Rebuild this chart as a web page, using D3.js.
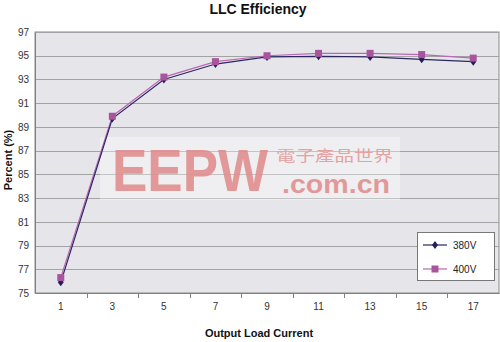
<!DOCTYPE html>
<html><head><meta charset="utf-8">
<script src="https://cdn.jsdelivr.net/npm/d3@7"></script>
<style>
html,body{margin:0;padding:0;background:#fff;}
svg{display:block;font-family:"Liberation Sans",Arial,sans-serif;}
</style></head>
<body>
<svg id="chart" width="500" height="342"></svg>
<script>
const categories = ["1","3","5","7","9","11","13","15","17"];
const series380 = [75.9, 89.7, 93.0, 94.3, 94.9, 94.95, 94.9, 94.7, 94.5];
const series400 = [76.3, 89.9, 93.2, 94.5, 95.0, 95.2, 95.2, 95.1, 94.8];
const yTicks = [75, 77, 79, 81, 83, 85, 87, 89, 91, 93, 95, 97];
const seriesNames = ["380V", "400V"];

const svg = d3.select("#chart");
const L = 35, R = 499, T = 32, B = 293;
const x = d3.scaleBand().domain(categories).range([L, R]);
const y = d3.scaleLinear().domain([75, 97]).range([B, T]);

// plot background
svg.append("rect").attr("x", L).attr("y", T).attr("width", R - L).attr("height", B - T)
  .attr("fill", "#e6e6ea").attr("stroke", "#8c8c8c").attr("stroke-width", 1);

// gridlines
svg.append("g").selectAll("line").data(yTicks.slice(1)).join("line")
  .attr("x1", L).attr("x2", R).attr("y1", d => Math.round(y(d)) + 0.5).attr("y2", d => Math.round(y(d)) + 0.5)
  .attr("stroke", "#a3a3a3").attr("stroke-width", 1);

// watermark
const wm = svg.append("g");
wm.append("rect").attr("x", 100).attr("y", 137).attr("width", 300).attr("height", 63)
  .attr("fill", "#ffffff").attr("opacity", 0.35);
wm.append("text").attr("transform", "translate(112,191) scale(1,1.13)").attr("font-size", 53).attr("font-weight", "bold")
  .attr("fill", "#e08a8a").attr("opacity", 0.85).text("EEPW");
wm.append("text").attr("x", 276).attr("y", 161).attr("font-size", 15)
  .attr("font-family", "Noto Sans CJK TC").attr("textLength", 117).attr("lengthAdjust", "spacingAndGlyphs")
  .attr("fill", "#e4a3a3").text("電子產品世界");
wm.append("text").attr("x", 282).attr("y", 193).attr("font-size", 26).attr("font-weight", "bold")
  .attr("textLength", 108).attr("lengthAdjust", "spacingAndGlyphs")
  .attr("fill", "#e08a8a").attr("opacity", 0.85).text(".com.cn");

// y axis
const yAxis = d3.axisLeft(y).tickValues(yTicks).tickSize(0).tickPadding(6);
const gy = svg.append("g").attr("transform", `translate(${L},0)`).call(yAxis);
gy.select(".domain").attr("stroke", "#808080");
gy.selectAll("text").attr("font-size", 10).attr("fill", "#333").attr("font-family", "Liberation Sans, Arial");

// x axis
const xAxis = d3.axisBottom(x).tickSize(0).tickPadding(10);
const gx = svg.append("g").attr("transform", `translate(0,${B})`).call(xAxis);
gx.select(".domain").attr("stroke", "#808080");
gx.selectAll("text").attr("font-size", 10).attr("fill", "#333").attr("font-family", "Liberation Sans, Arial");
// tick marks at band boundaries
svg.append("g").selectAll("line").data(categories.slice(1)).join("line")
  .attr("x1", d => Math.round(x(d)) + 0.5).attr("x2", d => Math.round(x(d)) + 0.5)
  .attr("y1", B).attr("y2", B + 5).attr("stroke", "#808080");

// lines
const colors = ["#2b2660", "#b868b4"];
const markerColors = ["#231f5a", "#a8559e"];
const line = d3.line().x((d, i) => x(categories[i]) + x.bandwidth() / 2).y(d => y(d));
[series400, series380].forEach((s, k) => {
  const idx = k === 0 ? 1 : 0;
  svg.append("path").datum(s).attr("d", line).attr("fill", "none")
    .attr("stroke", colors[idx]).attr("stroke-width", 1.2);
});
// markers
function diamond(g, cx, cy, c) {
  g.append("path").attr("d", `M${cx},${cy-4}L${cx+3},${cy}L${cx},${cy+4}L${cx-3},${cy}Z`).attr("fill", c);
}
function square(g, cx, cy, c) {
  g.append("rect").attr("x", cx - 3.5).attr("y", cy - 3.5).attr("width", 7).attr("height", 7).attr("fill", c);
}
const mg = svg.append("g");
series380.forEach((v, i) => diamond(mg, x(categories[i]) + x.bandwidth() / 2, y(v), markerColors[0]));
series400.forEach((v, i) => square(mg, x(categories[i]) + x.bandwidth() / 2, y(v), markerColors[1]));

// legend
const lg = svg.append("g");
lg.append("rect").attr("x", 417.5).attr("y", 232.5).attr("width", 77).attr("height", 48)
  .attr("fill", "#fff").attr("stroke", "#777");
seriesNames.forEach((n, i) => {
  const ly = 245 + i * 24;
  lg.append("line").attr("x1", 423).attr("x2", 447).attr("y1", ly).attr("y2", ly)
    .attr("stroke", colors[i]).attr("stroke-width", 1.2);
  if (i === 0) diamond(lg, 435, ly, markerColors[0]); else square(lg, 435, ly, markerColors[1]);
  lg.append("text").attr("x", 453).attr("y", ly + 4).attr("font-size", 10).attr("fill", "#222").text(n);
});

// titles
svg.append("text").attr("x", 258).attr("y", 14).attr("text-anchor", "middle")
  .attr("font-size", 14).attr("font-weight", "bold").attr("fill", "#111").text("LLC Efficiency");
svg.append("text").attr("x", 259).attr("y", 337).attr("text-anchor", "middle")
  .attr("font-size", 11).attr("font-weight", "bold").attr("fill", "#111").text("Output Load Current");
svg.append("text").attr("transform", `translate(12,160) rotate(-90)`).attr("text-anchor", "middle")
  .attr("font-size", 11).attr("font-weight", "bold").attr("fill", "#111").text("Percent (%)");
</script>
</body></html>
